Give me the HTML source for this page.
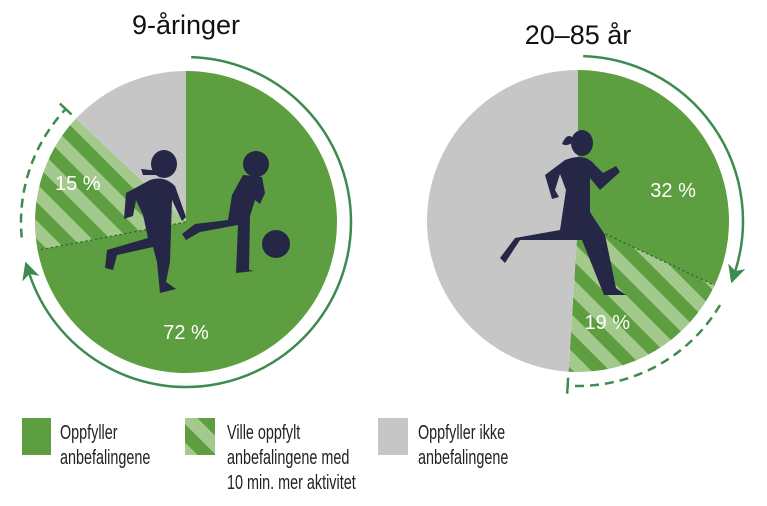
<!DOCTYPE html>
<html><head><meta charset="utf-8"><style>
body{margin:0;background:#fff;width:767px;height:501px;overflow:hidden}
svg text{font-family:"Liberation Sans Narrow","Liberation Sans",sans-serif}
</style></head><body>
<svg id="chart" width="767" height="501" viewBox="0 0 767 501">
<defs>
<pattern id="hatch" patternUnits="userSpaceOnUse" width="26" height="26" patternTransform="rotate(-45)">
<rect width="26" height="26" fill="#a3c98c"/><rect width="13" height="26" fill="#5c9e40"/>
</pattern>
<marker id="arrow" markerWidth="18" markerHeight="18" refX="6" refY="9" orient="auto" markerUnits="userSpaceOnUse" viewBox="0 0 18 18"><path d="M0,0 L18,9 L0,18 L5,9 Z" fill="#3d8b50"/></marker>
</defs>
<text x="186" y="34" font-size="27" text-anchor="middle" fill="#111">9-åringer</text>
<text x="578" y="44" font-size="27" text-anchor="middle" fill="#111">20–85 år</text>
<g id="pies"></g>
<g>
<rect x="22" y="418" width="29" height="37" fill="#5c9e40"/>
<g transform="translate(60,0) scale(0.72,1) translate(-60,0)">
<text x="60" y="439" font-size="20" fill="#222"><tspan x="60">Oppfyller</tspan><tspan x="60" dy="25">anbefalingene</tspan></text>
</g>
<rect x="185" y="418" width="30" height="37" fill="url(#hatch)"/>
<g transform="translate(227,0) scale(0.72,1) translate(-227,0)">
<text x="227" y="439" font-size="20" fill="#222"><tspan x="227">Ville oppfylt</tspan><tspan x="227" dy="25">anbefalingene med</tspan><tspan x="227" dy="25">10 min. mer aktivitet</tspan></text>
</g>
<rect x="378" y="418" width="30" height="37" fill="#c6c6c6"/>
<g transform="translate(418,0) scale(0.72,1) translate(-418,0)">
<text x="418" y="439" font-size="20" fill="#222"><tspan x="418">Oppfyller ikke</tspan><tspan x="418" dy="25">anbefalingene</tspan></text>
</g>
</g>
</svg>
<script>
const groups = ["9-åringer", "20–85 år"];
const meets = [72, 32];
const wouldMeet = [15, 19];
const notMeet = [13, 49];
const labels = [["72 %", "15 %"], ["32 %", "19 %"]];

const NS = "http://www.w3.org/2000/svg";
const centers = [[186, 222], [578, 221]];
const R = 151, RA = 165;
const pies = document.getElementById('pies');
function pt(cx, cy, r, pct) { const a = pct / 100 * 2 * Math.PI; return [cx + r * Math.sin(a), cy - r * Math.cos(a)]; }
function slice(cx, cy, p0, p1) {
  const a = pt(cx, cy, R, p0), b = pt(cx, cy, R, p1);
  return `M${cx},${cy} L${a[0]},${a[1]} A${R},${R} 0 ${p1 - p0 > 50 ? 1 : 0} 1 ${b[0]},${b[1]} Z`;
}
function arc(cx, cy, r, p0, p1) {
  const a = pt(cx, cy, r, p0), b = pt(cx, cy, r, p1);
  return `M${a[0]},${a[1]} A${r},${r} 0 ${p1 - p0 > 50 ? 1 : 0} 1 ${b[0]},${b[1]}`;
}
function mk(tag, attrs, parent) { const e = document.createElementNS(NS, tag); for (const k in attrs) e.setAttribute(k, attrs[k]); parent.appendChild(e); return e; }
groups.forEach((g, i) => {
  const [cx, cy] = centers[i];
  const total = meets[i] + wouldMeet[i] + notMeet[i];
  const m = meets[i] / total * 100, w = wouldMeet[i] / total * 100;
  const grp = mk('g', {}, pies);
  
  
  const s1 = mk('path', { d: slice(cx, cy, 0, m), fill: '#5c9e40' }, grp);
  
  
  const s2 = mk('path', { d: slice(cx, cy, m, m + w), fill: 'url(#hatch)' }, grp);
  
  
  const s3 = mk('path', { d: slice(cx, cy, m + w, 100), fill: '#c6c6c6' }, grp);
  
  
  const e = pt(cx, cy, R, m);
  mk('line', { x1: cx, y1: cy, x2: e[0], y2: e[1], stroke: '#3a6a30', 'stroke-width': 1.2, 'stroke-dasharray': '3 2' }, grp);
  const a1 = mk('path', { d: arc(cx, cy, RA, 0.5, m - 2), fill: 'none', stroke: '#3d8b50', 'stroke-width': 2.5, 'marker-end': 'url(#arrow)' }, grp);
  
  
  const a2 = mk('path', { d: arc(cx, cy, RA, m + 1.5, m + w), fill: 'none', stroke: '#3d8b50', 'stroke-width': 2.5, 'stroke-dasharray': '9 6' }, grp);
  
  
  const t0 = pt(cx, cy, RA - 8, m + w), t1 = pt(cx, cy, RA + 8, m + w);
  mk('line', { x1: t0[0], y1: t0[1], x2: t1[0], y2: t1[1], stroke: '#3d8b50', 'stroke-width': 2.5 }, grp);
  const lp1 = i === 0 ? pt(cx, cy, 110, 50) : pt(cx, cy, 100, m / 2 + 4);
  const lp2 = i === 0 ? pt(cx, cy, 115, m + w / 2 + 1) : pt(cx, cy, 105, m + w / 2 + 4);
  [lp1, lp2].forEach((p, j) => {
    const t = mk('text', { x: p[0], y: p[1] + 7, 'text-anchor': 'middle', 'font-size': 20, fill: '#fff' }, grp);
    
    
    t.textContent = labels[i][j];
  });
});
</script>
<svg width="767" height="501" style="position:absolute;left:0;top:0">
<g fill="#262746">
<ellipse cx="164" cy="164" rx="13" ry="14"/><path d="M141 169 L160 171 L160 175 L143 175 Z"/>
<path d="M150 180 Q164 175 175 186 L186 217 L182 221 L172 200 L170 262 L166 282 L176 289 L160 293 L157 262 L153 247 L117 255 L113 270 L105 268 L107 250 L148 238 L143 215 L136 200 L133 216 L124 219 L126 193 Z"/>
<ellipse cx="256" cy="164" rx="13" ry="13"/>
<path d="M243 175 L262 177 L265 193 L260 204 L255 200 L250 216 L249 270 L254 271 L236 273 L238 225 L200 232 L186 240 L182 234 L195 224 L228 220 L232 195 Z"/>
<circle cx="276" cy="244" r="14"/>
<ellipse cx="582" cy="143" rx="11" ry="13"/><path d="M573 138 Q567 132 562 144 Q567 147 573 142 Z"/>
<path d="M565 160 Q585 152 595 165 L603 173 L616 166 L620 172 L600 190 L590 178 L590 212 L605 235 L616 288 L626 295 L604 295 L598 280 L582 240 L562 240 L520 240 L505 263 L500 258 L515 238 L560 230 L566 190 L560 174 L555 190 L559 197 L552 199 L545 175 Z"/>
</g>
</svg>
</body></html>
